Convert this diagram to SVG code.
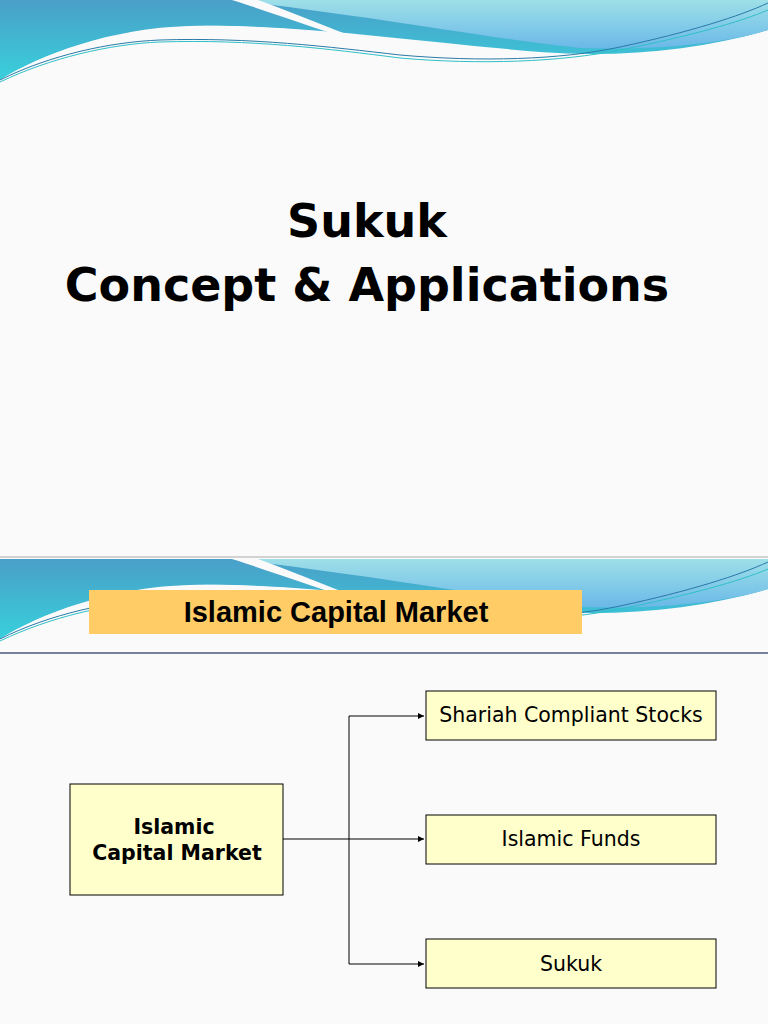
<svg xmlns="http://www.w3.org/2000/svg" xmlns:xlink="http://www.w3.org/1999/xlink" width="768" height="1024" viewBox="0 0 768 1024">
<style>
.box{fill:#ffffcc;stroke:#000;stroke-width:1}
.t{font-family:"DejaVu Sans",sans-serif;font-size:20.5px;fill:#000;text-anchor:middle}
.ln{stroke:#000;stroke-width:1;fill:none}
</style>
<defs>
<linearGradient id="g1" x1="0" y1="0" x2="0" y2="1"><stop offset="0" stop-color="#4a9fc8"/><stop offset="1" stop-color="#38d0dc"/></linearGradient>
<linearGradient id="g2" x1="0" y1="0" x2="0" y2="1"><stop offset="0" stop-color="#9ee0e8"/><stop offset="1" stop-color="#6ab8e8"/></linearGradient>
<marker id="ar" viewBox="0 0 10 10" refX="10" refY="5" markerWidth="6" markerHeight="6" orient="auto"><path d="M0,0L10,5L0,10z" fill="#000"/></marker>
<g id="wave">
<rect x="0" y="0" width="768" height="85" fill="#fafafa"/>
<path d="M0,0H768V30C700,50 620,58 540,52C420,42 300,24 200,26C110,28 40,55 0,80Z" fill="url(#g1)"/>
<path d="M232,0H768V30C720,45 650,50 580,48C500,40 400,20 232,0Z" fill="url(#g2)"/>
<path d="M232,0H258C300,15 340,33 380,46L370,46C320,30 270,12 232,0Z" fill="#fafafa"/>
<path d="M0,80C40,55 110,28 190,26C300,24 420,44 540,55C620,60 700,50 768,32V85H0Z" fill="#fafafa"/>
<path d="M0,80C50,55 110,42 160,40C250,37 330,47 400,55C480,62 560,60 620,47C690,32 740,16 768,3" stroke="#2a7aa8" stroke-width="1" fill="none"/>
<path d="M0,82C50,58 110,44 160,42C250,39 330,49 400,58C480,65 560,62 620,50C690,36 740,22 768,10" stroke="#30c0c8" stroke-width="1" fill="none"/>
</g>
</defs>
<rect width="768" height="1024" fill="#fafafa"/>
<g id="slide1">
<use xlink:href="#wave"/>
<text x="367" y="237" font-family="DejaVu Sans,sans-serif" font-weight="bold" font-size="46" text-anchor="middle">Sukuk</text>
<text x="367" y="301" font-family="DejaVu Sans,sans-serif" font-weight="bold" font-size="46" text-anchor="middle">Concept &amp; Applications</text>
</g>
<line x1="0" y1="557" x2="768" y2="557" stroke="#aaa"/>
<g id="slide2">
<g transform="translate(0,559)"><use xlink:href="#wave"/></g>
<rect x="89" y="590" width="493" height="44" fill="#ffcc66"/>
<text x="336" y="622" font-family="Liberation Sans,Arial,sans-serif" font-weight="bold" font-size="29" text-anchor="middle">Islamic Capital Market</text>
<line x1="0" y1="653" x2="768" y2="653" stroke="#4a5a78" stroke-width="1.5"/>
</g>
<g id="connectors">
<path class="ln" d="M283,839H424" marker-end="url(#ar)"/>
<path class="ln" d="M349,716H424" marker-end="url(#ar)"/>
<path class="ln" d="M349,716V964H424" marker-end="url(#ar)"/>
</g>
<g id="icm"><rect class="box" x="70" y="784" width="213" height="111"/>
<text class="t" x="174" y="834" font-weight="bold">Islamic</text>
<text class="t" x="177" y="860" font-weight="bold">Capital Market</text></g>
<g id="stocks"><rect class="box" x="426" y="691" width="290" height="49"/><text class="t" x="571" y="722">Shariah Compliant Stocks</text></g>
<g id="funds"><rect class="box" x="426" y="815" width="290" height="49"/><text class="t" x="571" y="846">Islamic Funds</text></g>
<g id="sukuk"><rect class="box" x="426" y="939" width="290" height="49"/><text class="t" x="571" y="971">Sukuk</text></g>
</svg>
